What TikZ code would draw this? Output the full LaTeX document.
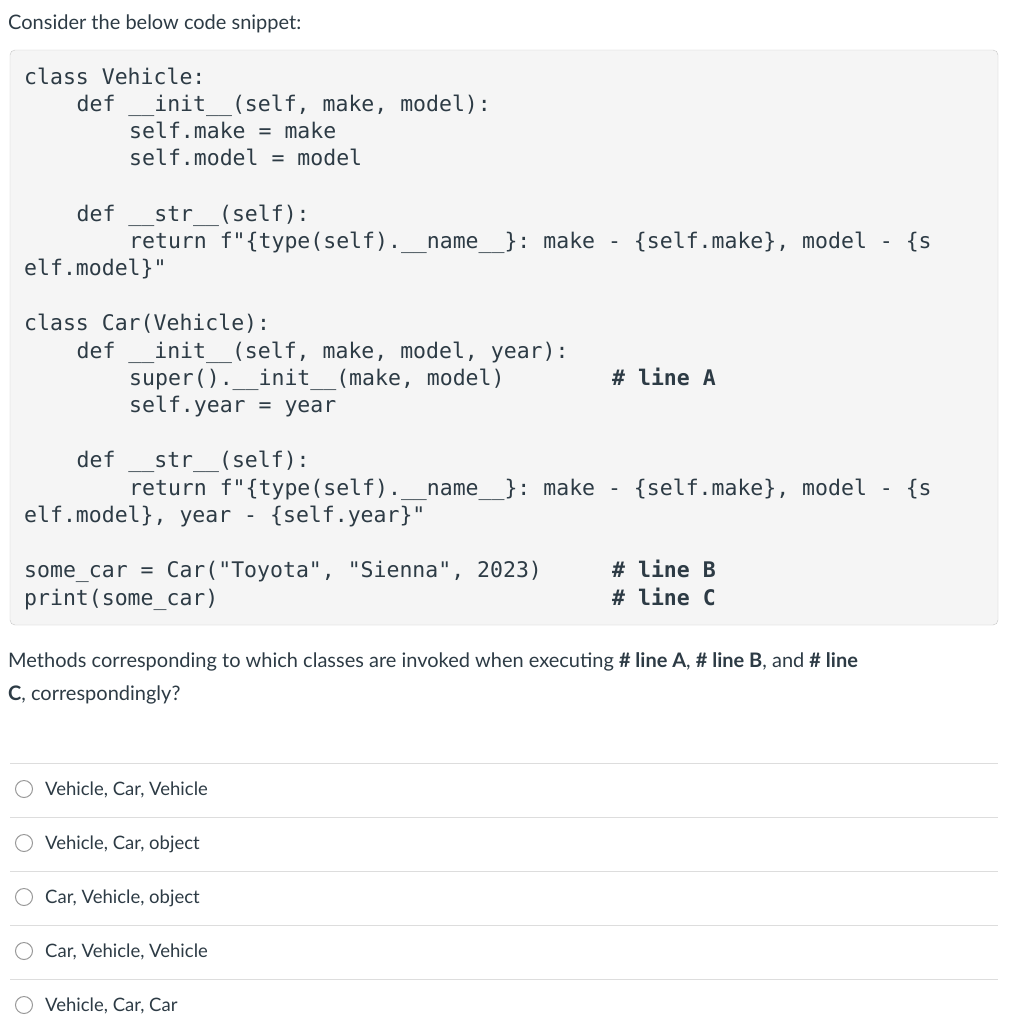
\documentclass[tikz,border=0pt]{standalone}
\usepackage{fontspec}
\setmainfont{Lato}
\setmonofont{DejaVu Sans Mono}
\definecolor{boxbg}{HTML}{F5F5F5}
\definecolor{boxline}{HTML}{C8C8C8}
\definecolor{txt}{HTML}{2D3B45}
\definecolor{sep}{HTML}{DDDDDD}
\begin{document}
\begin{tikzpicture}[x=1pt,y=-1pt,
  code/.style={anchor=base west,inner sep=0pt,font=\fontsize{21.5}{24}\ttfamily,text=txt},
  cmt/.style={code,font=\fontsize{21.5}{24}\ttfamily\bfseries},
  body/.style={anchor=base west,inner sep=0pt,font=\fontsize{20}{24}\selectfont,text=txt},
  opt/.style={anchor=base west,inner sep=0pt,font=\fontsize{18.5}{22}\selectfont,text=txt},
  radio/.style={circle,draw=gray!80,line width=1pt,minimum size=17pt,inner sep=0pt}]
\useasboundingbox[fill=white] (0,0) rectangle (1024,1018);
\node[body] (t0) at (8,29) {Consider the below code snippet:};
\draw[boxline,fill=boxbg,rounded corners=5pt] (10,50) rectangle (998,625);
\def\c{24}\def\i{76.5}\def\j{129}
\node[code] (l1) at (\c,84) {class Vehicle:};
\node[code] (l2) at (\i,111) {def \_\_init\_\_(self, make, model):};
\node[code] (l3) at (\j,138) {self.make = make};
\node[code] (l4) at (\j,165) {self.model = model};
\node[code] (l5) at (\i,221) {def \_\_str\_\_(self):};
\node[code] (l6) at (\j,248) {return f"\{type(self).\_\_name\_\_\}: make - \{self.make\}, model - \{s};
\node[code] (l7) at (\c,275) {elf.model\}"};
\node[code] (l8) at (\c,330) {class Car(Vehicle):};
\node[code] (l9) at (\i,358) {def \_\_init\_\_(self, make, model, year):};
\node[code] (l10) at (\j,385) {super().\_\_init\_\_(make, model)};
\node[cmt] (ca) at (612,385) {\# line A};
\node[code] (l11) at (\j,412) {self.year = year};
\node[code] (l12) at (\i,467) {def \_\_str\_\_(self):};
\node[code] (l13) at (\j,495) {return f"\{type(self).\_\_name\_\_\}: make - \{self.make\}, model - \{s};
\node[code] (l14) at (\c,522) {elf.model\}, year - \{self.year\}"};
\node[code] (l15) at (\c,577) {some\_car = Car("Toyota", "Sienna", 2023)};
\node[cmt] (cb) at (612,577) {\# line B};
\node[code] (l16) at (\c,605) {print(some\_car)};
\node[cmt] (cc) at (612,605) {\# line C};
\node[body] (q1) at (8,667) {Methods corresponding to which classes are invoked when executing \textbf{\# line A}, \textbf{\# line B}, and \textbf{\# line}};
\node[body] (q2) at (8,700) {\textbf{C}, correspondingly?};
\foreach \k/\t in {0/{Vehicle, Car, Vehicle},1/{Vehicle, Car, object},2/{Car, Vehicle, object},3/{Car, Vehicle, Vehicle},4/{Vehicle, Car, Car}}{
  \pgfmathsetmacro\yy{789+54*\k}
  \draw[sep] (10,\yy-26) -- (998,\yy-26);
  \node[radio] (r\k) at (24,\yy) {};
  \node[opt] (o\k) at (45,\yy+6.5) {\t};
}
\end{tikzpicture}
\end{document}
